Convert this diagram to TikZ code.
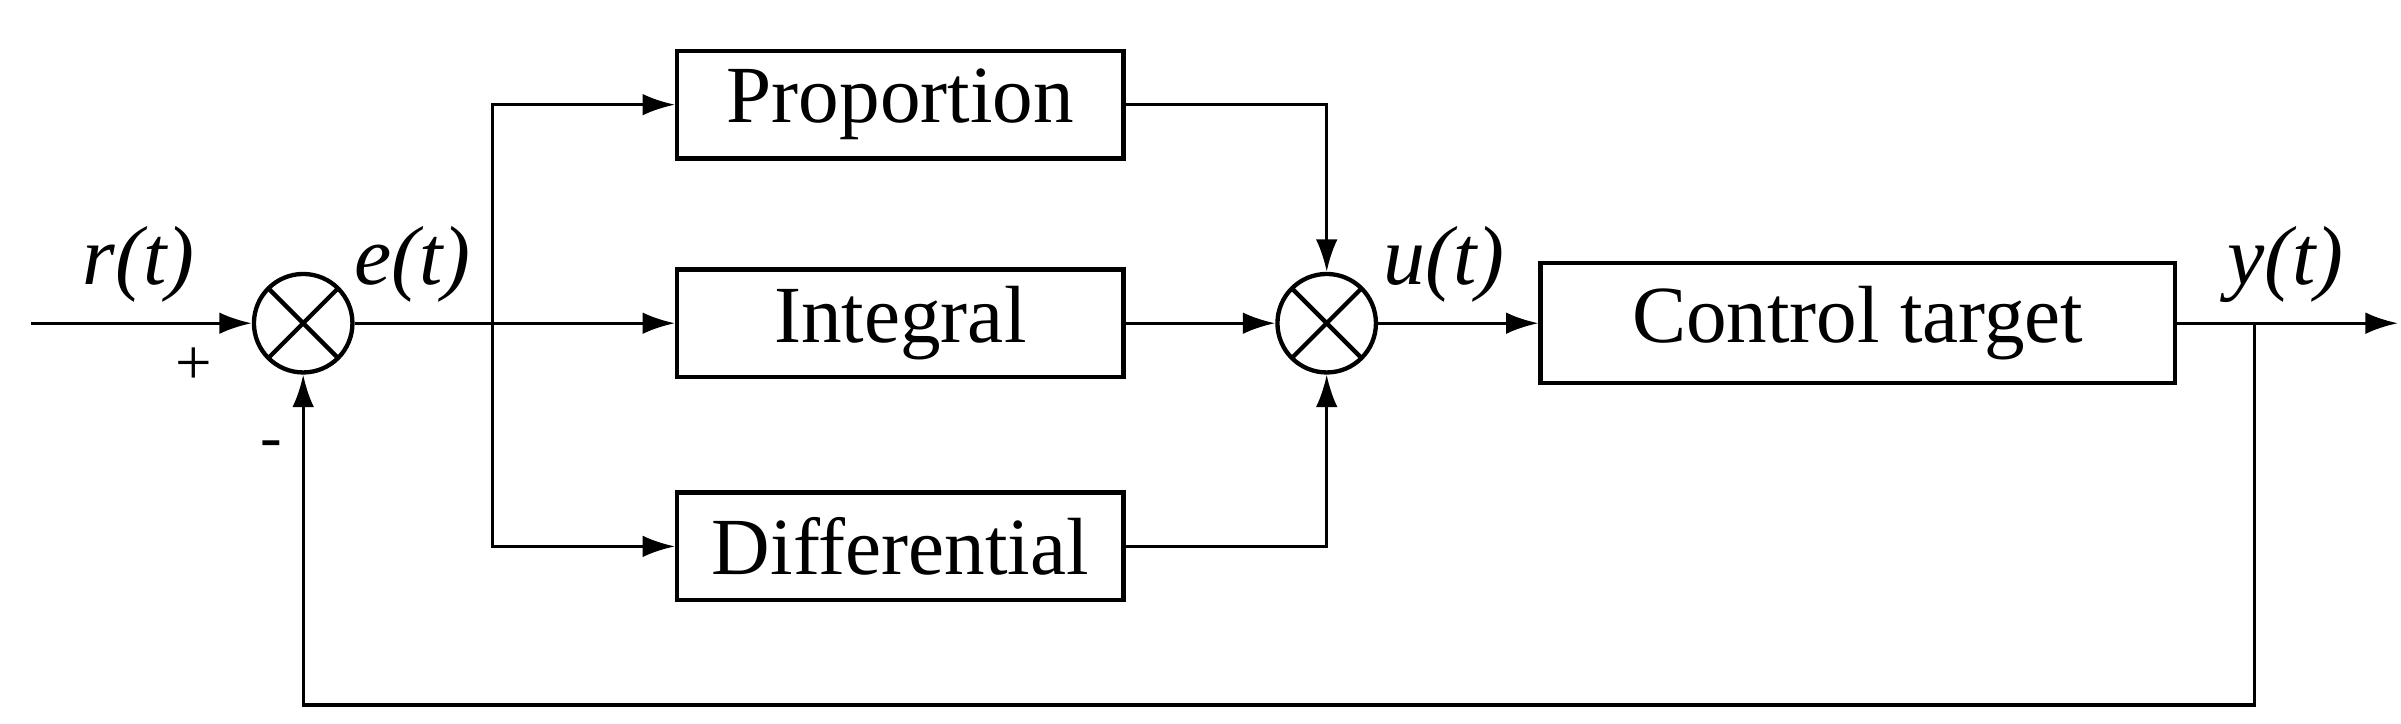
\documentclass[tikz,border=0pt]{standalone}
\usepackage{fontspec}
\setmainfont{Liberation Serif}
\usetikzlibrary{arrows.meta}
\begin{document}
\begin{tikzpicture}[x=0.02cm,y=-0.02cm,line width=1.2pt,
  blk/.style={draw,line width=1.6pt,minimum width=290*0.02cm,minimum height=70*0.02cm,font=\fontsize{30}{32}\selectfont},
  sum/.style={draw,line width=1.6pt,circle,minimum size=64*0.02cm,inner sep=0pt,path picture={\draw[line width=1.6pt] (path picture bounding box.north west)--(path picture bounding box.south east) (path picture bounding box.north east)--(path picture bounding box.south west);}},
  lab/.style={font=\fontsize{31}{33}\selectfont\itshape},
  arr/.style={-{Latex[length=12pt,width=8pt]}}]
\useasboundingbox (0,0) rectangle (1560,470);
\node[sum] (s1) at (197,210) {};
\node[sum] (s2) at (862,210) {};
\node[blk] (p) at (585,68) {Proportion};
\node[blk] (i) at (585,210) {Integral};
\node[blk] (d) at (585,355) {Differential};
\node[blk,minimum width=412*0.02cm,minimum height=78*0.02cm] (c) at (1207,210) {Control target};
\coordinate (in) at (20,210);
\coordinate (out) at (1558,210);
\coordinate (br) at (320,210);
\coordinate (fb) at (1465,210);
\node[lab] at (90,172) {r(t)};
\node[lab] at (268,172) {e(t)};
\node[lab] at (938,172) {u(t)};
\node[lab] at (1485,172) {y(t)};
\node[font=\fontsize{24}{26}\selectfont] at (126,238) {+};
\node[font=\fontsize{24}{26}\selectfont] at (176,292) {-};
\draw[arr] (in) -- (s1);
\draw (s1) -- (br);
\draw[arr] (br) -- (i);
\draw[arr] (br) |- (p);
\draw[arr] (br) |- (d);
\draw[arr] (p.east) -| (s2);
\draw[arr] (d.east) -| (s2);
\draw[arr] (i) -- (s2);
\draw[arr] (s2) -- (c);
\draw[arr] (c) -- (out);
\draw[arr] (fb) -- (1465,458) -- (197,458) -- (s1);
\end{tikzpicture}
\end{document}
